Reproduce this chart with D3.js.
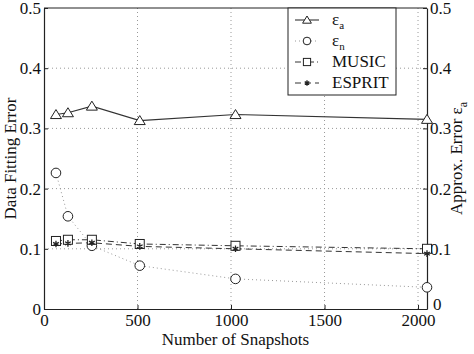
<!DOCTYPE html>
<html>
<head>
<meta charset="utf-8">
<script src="https://cdn.jsdelivr.net/npm/d3@7"></script>
<style>
  body { margin: 0; background: #fff; }
  text { font-family: "Liberation Serif", "DejaVu Serif", serif; fill: #111; }
</style>
</head>
<body>
<script>
let snapshots = [64, 128, 256, 512, 1024, 2048];
let epsA   = [0.323, 0.326, 0.337, 0.313, 0.323, 0.315];
let epsN   = [0.226, 0.154, 0.105, 0.072, 0.050, 0.036];
let music  = [0.113, 0.115, 0.115, 0.108, 0.105, 0.100];
let esprit = [0.108, 0.109, 0.110, 0.104, 0.100, 0.092];
let xTicks = [0, 500, 1000, 1500, 2000];
let yTicks = [0, 0.1, 0.2, 0.3, 0.4, 0.5];

let margin = {top: 8, right: 47, bottom: 45, left: 44},
    width = 474 - margin.left - margin.right,
    height = 354 - margin.top - margin.bottom;

let svg = d3.select("body").append("svg")
    .attr("width", 474).attr("height", 354);

let g = svg.append("g")
    .attr("transform", `translate(${margin.left}, ${margin.top})`);

let x = d3.scaleLinear().domain([0, 2048]).range([0, width]);
let y = d3.scaleLinear().domain([0, 0.5]).range([height, 0]);

// grid
g.selectAll(".gx").data(xTicks.slice(1)).enter().append("line")
    .attr("x1", d => x(d)).attr("x2", d => x(d))
    .attr("y1", 0).attr("y2", height)
    .attr("stroke", "#999").attr("stroke-width", 1).attr("stroke-dasharray", "1,3");
g.selectAll(".gy").data(yTicks.slice(1, -1)).enter().append("line")
    .attr("x1", 0).attr("x2", width)
    .attr("y1", d => y(d)).attr("y2", d => y(d))
    .attr("stroke", "#999").attr("stroke-width", 1).attr("stroke-dasharray", "1,3");

// axes
let fmt = d => d === 0 ? "0" : d3.format(".1f")(d);
let axisStyle = a => {
  a.selectAll("path").attr("stroke", "#222").attr("stroke-width", 1.2);
  a.selectAll("line").attr("stroke", "#222");
  a.selectAll("text").style("font-family", "Liberation Serif, serif").style("font-size", "17px").attr("fill", "#111");
};
g.append("g").attr("transform", `translate(0,${height})`)
    .call(d3.axisBottom(x).tickValues(xTicks).tickFormat(d3.format("d"))
      .tickSizeInner(-4).tickSizeOuter(0).tickPadding(5))
    .call(axisStyle);
g.append("g")
    .call(d3.axisLeft(y).tickValues(yTicks).tickFormat(fmt).tickSizeInner(-4).tickSizeOuter(0).tickPadding(3))
    .call(axisStyle);
g.append("g").attr("transform", `translate(${width},0)`)
    .call(d3.axisRight(y).tickValues(yTicks).tickFormat(fmt).tickSizeInner(-4).tickSizeOuter(0).tickPadding(3))
    .call(axisStyle)
    .selectAll(".tick").filter(d => d === 0).select("text").attr("dy", "0.05em").attr("x", 6);
g.append("line").attr("x1", 0).attr("x2", width).attr("y1", 0).attr("y2", 0)
    .attr("stroke", "#222").attr("stroke-width", 1.2);

// labels
svg.append("text").attr("x", margin.left + width / 2).attr("y", 345)
    .attr("text-anchor", "middle").style("font-size", "17px").text("Number of Snapshots");
svg.append("text").attr("transform", `translate(16,${margin.top + height / 2}) rotate(-90)`)
    .attr("text-anchor", "middle").style("font-size", "17px").text("Data Fitting Error");
let rl = svg.append("text").attr("transform", `translate(462,${margin.top + height / 2}) rotate(-90)`)
    .attr("text-anchor", "middle").style("font-size", "17px");
rl.append("tspan").text("Approx. Error ε");
rl.append("tspan").attr("dy", 5).style("font-size", "12px").text("a");

// series
let series = [
  {name: "a", vals: epsA, dash: null, color: "#333", w: 1.1, shape: "tri"},
  {name: "n", vals: epsN, dash: "1,3", color: "#999", w: 1, shape: "circ"},
  {name: "MUSIC", vals: music, dash: "6,3,1,3", color: "#333", w: 1, shape: "sq"},
  {name: "ESPRIT", vals: esprit, dash: "6,4", color: "#333", w: 1, shape: "star"}
];

let line = d3.line().x((d, i) => x(snapshots[i])).y(d => y(d));

function marker(sel, shape, k) {
  k = k || 1;
  if (shape === "tri") {
    sel.append("path").attr("d", `M0,${-5 * k}L${5.5 * k},${4 * k}L${-5.5 * k},${4 * k}Z`)
        .attr("fill", "#fff").attr("stroke", "#222").attr("stroke-width", 1);
  } else if (shape === "circ") {
    sel.append("circle").attr("r", 4.8 * k)
        .attr("fill", "#fff").attr("stroke", "#222").attr("stroke-width", 1);
  } else if (shape === "sq") {
    sel.append("rect").attr("x", -4.5 * k).attr("y", -4.5 * k).attr("width", 9 * k).attr("height", 9 * k)
        .attr("fill", "#fff").attr("stroke", "#222").attr("stroke-width", 1);
  } else {
    sel.append("path").attr("d", d3.symbol(d3.symbolAsterisk, 30 * k * k)())
        .attr("fill", "none").attr("stroke", "#222").attr("stroke-width", 1.3);
  }
}

series.forEach(s => {
  g.append("path").datum(s.vals)
      .attr("fill", "none").attr("stroke", s.color).attr("stroke-width", s.w)
      .attr("stroke-dasharray", s.dash).attr("d", line);
});
series.forEach(s => {
  g.selectAll(null).data(s.vals).enter().append("g")
      .attr("transform", (d, i) => `translate(${x(snapshots[i])},${y(d)})`)
      .each(function() { marker(d3.select(this), s.shape); });
});

// legend
let lg = svg.append("g").attr("transform", "translate(288,8)");
lg.append("rect").attr("width", 108).attr("height", 87)
    .attr("fill", "#fff").attr("stroke", "#222").attr("stroke-width", 1);
series.forEach((s, i) => {
  let yy = 9 + i * 21;
  lg.append("line").attr("x1", 7).attr("x2", 31).attr("y1", yy + 3).attr("y2", yy + 3)
      .attr("stroke", s.color).attr("stroke-width", s.w).attr("stroke-dasharray", s.dash);
  let m = lg.append("g").attr("transform", `translate(19,${yy + 3})`);
  marker(m, s.shape, 0.8);
  let t = lg.append("text").attr("x", 44).attr("y", yy + 8).style("font-size", "17px");
  if (s.name.length === 1) {
    t.append("tspan").text("ε");
    t.append("tspan").attr("dy", 4).style("font-size", "11px").text(s.name);
  } else {
    t.text(s.name);
  }
});
</script>
</body>
</html>
